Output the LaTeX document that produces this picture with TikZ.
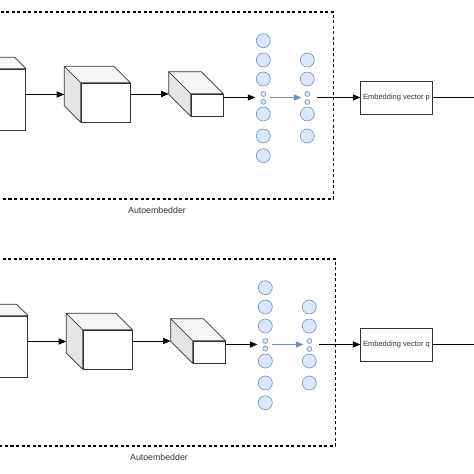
\documentclass[tikz,border=0pt]{standalone}
\usepackage{fontspec}
\setmainfont{Liberation Sans}
\usetikzlibrary{arrows}
\definecolor{nfill}{HTML}{DAE8FC}
\definecolor{nline}{HTML}{6C8EBF}
\definecolor{inkgray}{HTML}{333333}

\begin{document}
\begin{tikzpicture}[x=1pt, y=-1pt, line width=0.7pt, >={triangle 45},
  front/.style={draw=inkgray, fill=white, rectangle, inner sep=0},
  sideface/.style={draw=inkgray, fill=gray!20, line join=round},
  topface/.style={draw=inkgray, fill=gray!7, line join=round},
  neuron/.style={circle, draw=nline, fill=nfill, minimum size=14, inner sep=0, line width=0.6pt},
  dotn/.style={neuron, minimum size=5},
  frame/.style={draw=black, line width=1.2pt, dash pattern=on 3pt off 2.5pt},
  embbox/.style={draw=inkgray, rectangle, minimum width=71.6, minimum height=33.3, inner sep=0, text=inkgray, font=\fontsize{7.5}{9}\selectfont}]

  \useasboundingbox (0,0) rectangle (474,474);
  \clip (0,0) rectangle (474,474);

  \foreach \v/\sx/\sy in {p/0/0, q/2/247} {
  \begin{scope}[shift={(\sx,\sy)}]
    % Define nodes
    \draw[frame] (-30,12) rectangle (333.3,199);
    \node[text=inkgray, font=\fontsize{8.8}{10}\selectfont] (lbl\v) at (157,210) {Autoembedder};

    \node[front, minimum width=66, minimum height=61] (cubeA\v) at (-7.3,99.5) {};
    \node[front, minimum width=49, minimum height=39] (cubeB\v) at (105.5,102.5) {};
    \node[front, minimum width=32, minimum height=22] (cubeC\v) at (207,105) {};
    \foreach \c/\d in {A/11.5, B/16.5, C/22} {
      \draw[sideface] (cube\c\v.north west) -- ++(-\d,-\d) -- ([shift={(-\d,-\d)}]cube\c\v.south west) -- (cube\c\v.south west) -- cycle;
      \draw[topface] (cube\c\v.north west) -- ++(-\d,-\d) -- ([shift={(-\d,-\d)}]cube\c\v.north east) -- (cube\c\v.north east) -- cycle;
    }

    \foreach \y [count=\i] in {40.7,60,79,114,136,155.7}
      \node[neuron] (nA\i\v) at (263.3,\y) {};
    \foreach \y [count=\i] in {94,101.7}
      \node[dotn] (dA\i\v) at (263.3,\y) {};
    \foreach \y [count=\i] in {60,79,114,136}
      \node[neuron] (nB\i\v) at (307.3,\y) {};
    \foreach \y [count=\i] in {94,102}
      \node[dotn] (dB\i\v) at (307.3,\y) {};
    \coordinate (layA\v) at (263.3,97.5);
    \coordinate (layB\v) at (307.3,97.5);

    \node[embbox] (emb\v) at (396.5-\sx,97.5) {Embedding vector \v};

    % Connect the nodes
    \coordinate (inB\v) at ([shift={(-16.5,-8)}]cubeB\v.west);
    \coordinate (inC\v) at ([shift={(-22,-11)}]cubeC\v.west);
    \draw[->] (cubeA\v.east |- inB\v) -- (inB\v);
    \draw[->] (cubeB\v.east |- inC\v) -- (inC\v);
    \draw[->] (cubeC\v.east |- layA\v) -- ([xshift=-8]layA\v);
    \draw[->, nline] ([xshift=7]layA\v) -- ([xshift=-6]layB\v);
    \draw[->] ([xshift=10]layB\v) -- (emb\v.west);
    \draw (emb\v.east) -- ++(60,0);
  \end{scope}
  }

\end{tikzpicture}
\end{document}
